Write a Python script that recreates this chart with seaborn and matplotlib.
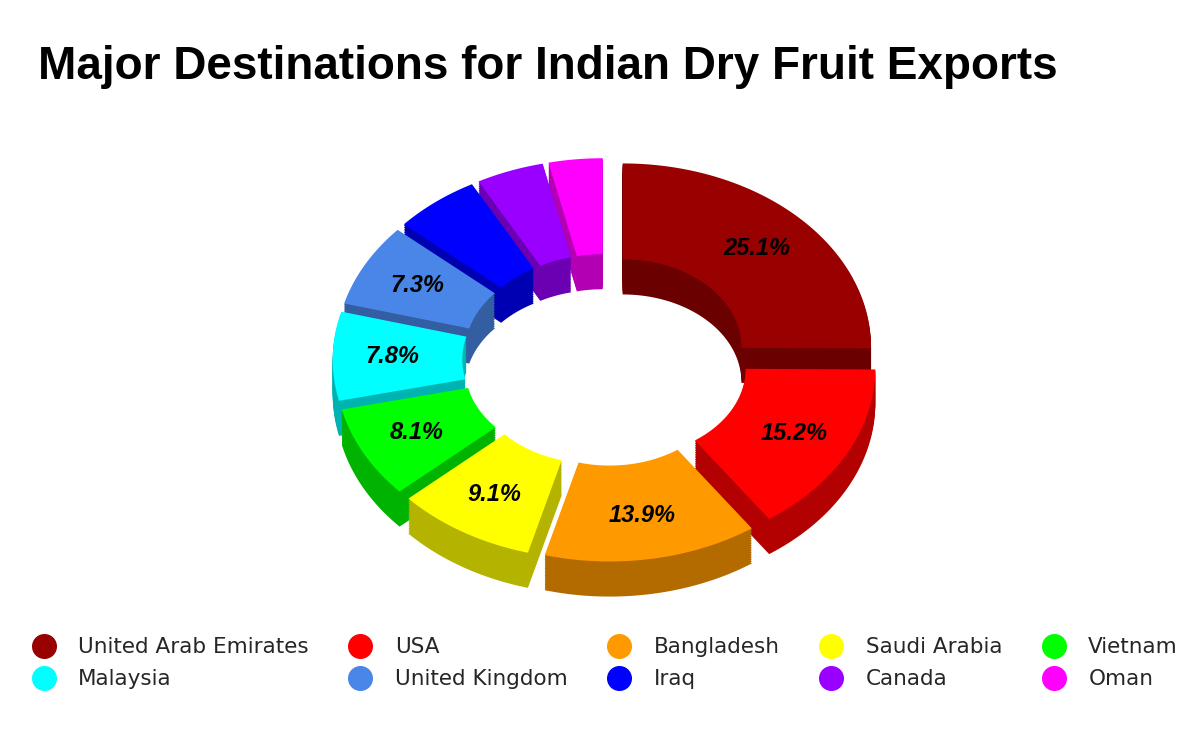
"""Exploded 3D-style donut: major destinations for Indian dry fruit exports."""

import matplotlib.pyplot as plt
import numpy as np
import seaborn as sns
from matplotlib.colors import to_rgb
from matplotlib.lines import Line2D

countries = ["United Arab Emirates", "USA", "Bangladesh", "Saudi Arabia", "Vietnam",
             "Malaysia", "United Kingdom", "Iraq", "Canada", "Oman"]
shares = [25.1, 15.2, 13.9, 9.1, 8.1, 7.8, 7.3, 5.6, 4.4, 3.5]
colors = ["#990000", "#ff0000", "#ff9900", "#ffff00", "#00ff00",
          "#00ffff", "#4a86e8", "#0000ff", "#9900ff", "#ff00ff"]

sns.set_theme(style="white")
plt.rcParams["font.family"] = ["Liberation Sans", "DejaVu Sans"]

R_OUT, R_IN, SQUASH, DEPTH, EXPLODE = 0.92, 0.44, 0.74, 0.13, 0.09

fig = plt.figure(figsize=(12, 7.42), dpi=100)
ax = fig.add_axes([0, 0, 1, 1])
ax.set_xlim(-2.24, 2.2)
ax.set_ylim(-1.415, 1.333)
ax.set_aspect("equal")
ax.axis("off")

total = sum(shares)
bounds = np.cumsum([0] + shares) / total * 360


def darker(c, f=0.7):
    return tuple(v * f for v in to_rgb(c))


slices = []
for i, (val, col) in enumerate(zip(shares, colors)):
    # clockwise from 12 o'clock, converted to math angles
    a0 = np.deg2rad(90 - bounds[i])
    a1 = np.deg2rad(90 - bounds[i + 1])
    mid = (a0 + a1) / 2
    t = np.linspace(a0, a1, 80)
    dx, dy = EXPLODE * np.cos(mid), EXPLODE * np.sin(mid) * SQUASH
    xs = np.concatenate([R_OUT * np.cos(t), R_IN * np.cos(t[::-1])]) + dx
    ys = np.concatenate([R_OUT * np.sin(t), R_IN * np.sin(t[::-1])]) * SQUASH + dy
    slices.append((np.sin(mid), xs, ys, col, val, mid, dx, dy))

for s, xs, ys, col, val, mid, dx, dy in sorted(slices, key=lambda r: -r[0]):
    for off in np.linspace(DEPTH, 0.005, 20):
        ax.fill(xs, ys - off, color=darker(col), lw=0)
    ax.fill(xs, ys, color=col, lw=0)
    if val >= 7:
        r = (R_OUT + R_IN) / 2 + 0.02
        ax.text(r * np.cos(mid) + dx, r * np.sin(mid) * SQUASH + dy, f"{val}%",
                ha="center", va="center", fontsize=17, fontweight="bold",
                fontstyle="italic", color="black")

fig.text(0.032, 0.91, "Major Destinations for Indian Dry Fruit Exports",
         fontsize=33, fontweight="bold", ha="left", va="center", color="black")

# legend fills column-wise, so interleave to get row-wise order
order = [i + 5 * r for i in range(5) for r in range(2)]
handles = [Line2D([], [], marker="o", ls="", markersize=17, color=colors[k]) for k in order]
labels = [countries[k] for k in order]
fig.legend(handles, labels, loc="lower center", bbox_to_anchor=(0.5, 0.045),
           ncol=5, frameon=False, fontsize=15.5, handletextpad=0.6,
           columnspacing=1.4, labelspacing=0.55,
           prop={"family": "DejaVu Sans", "size": 15.5})

fig.savefig("out.png", dpi=100)
